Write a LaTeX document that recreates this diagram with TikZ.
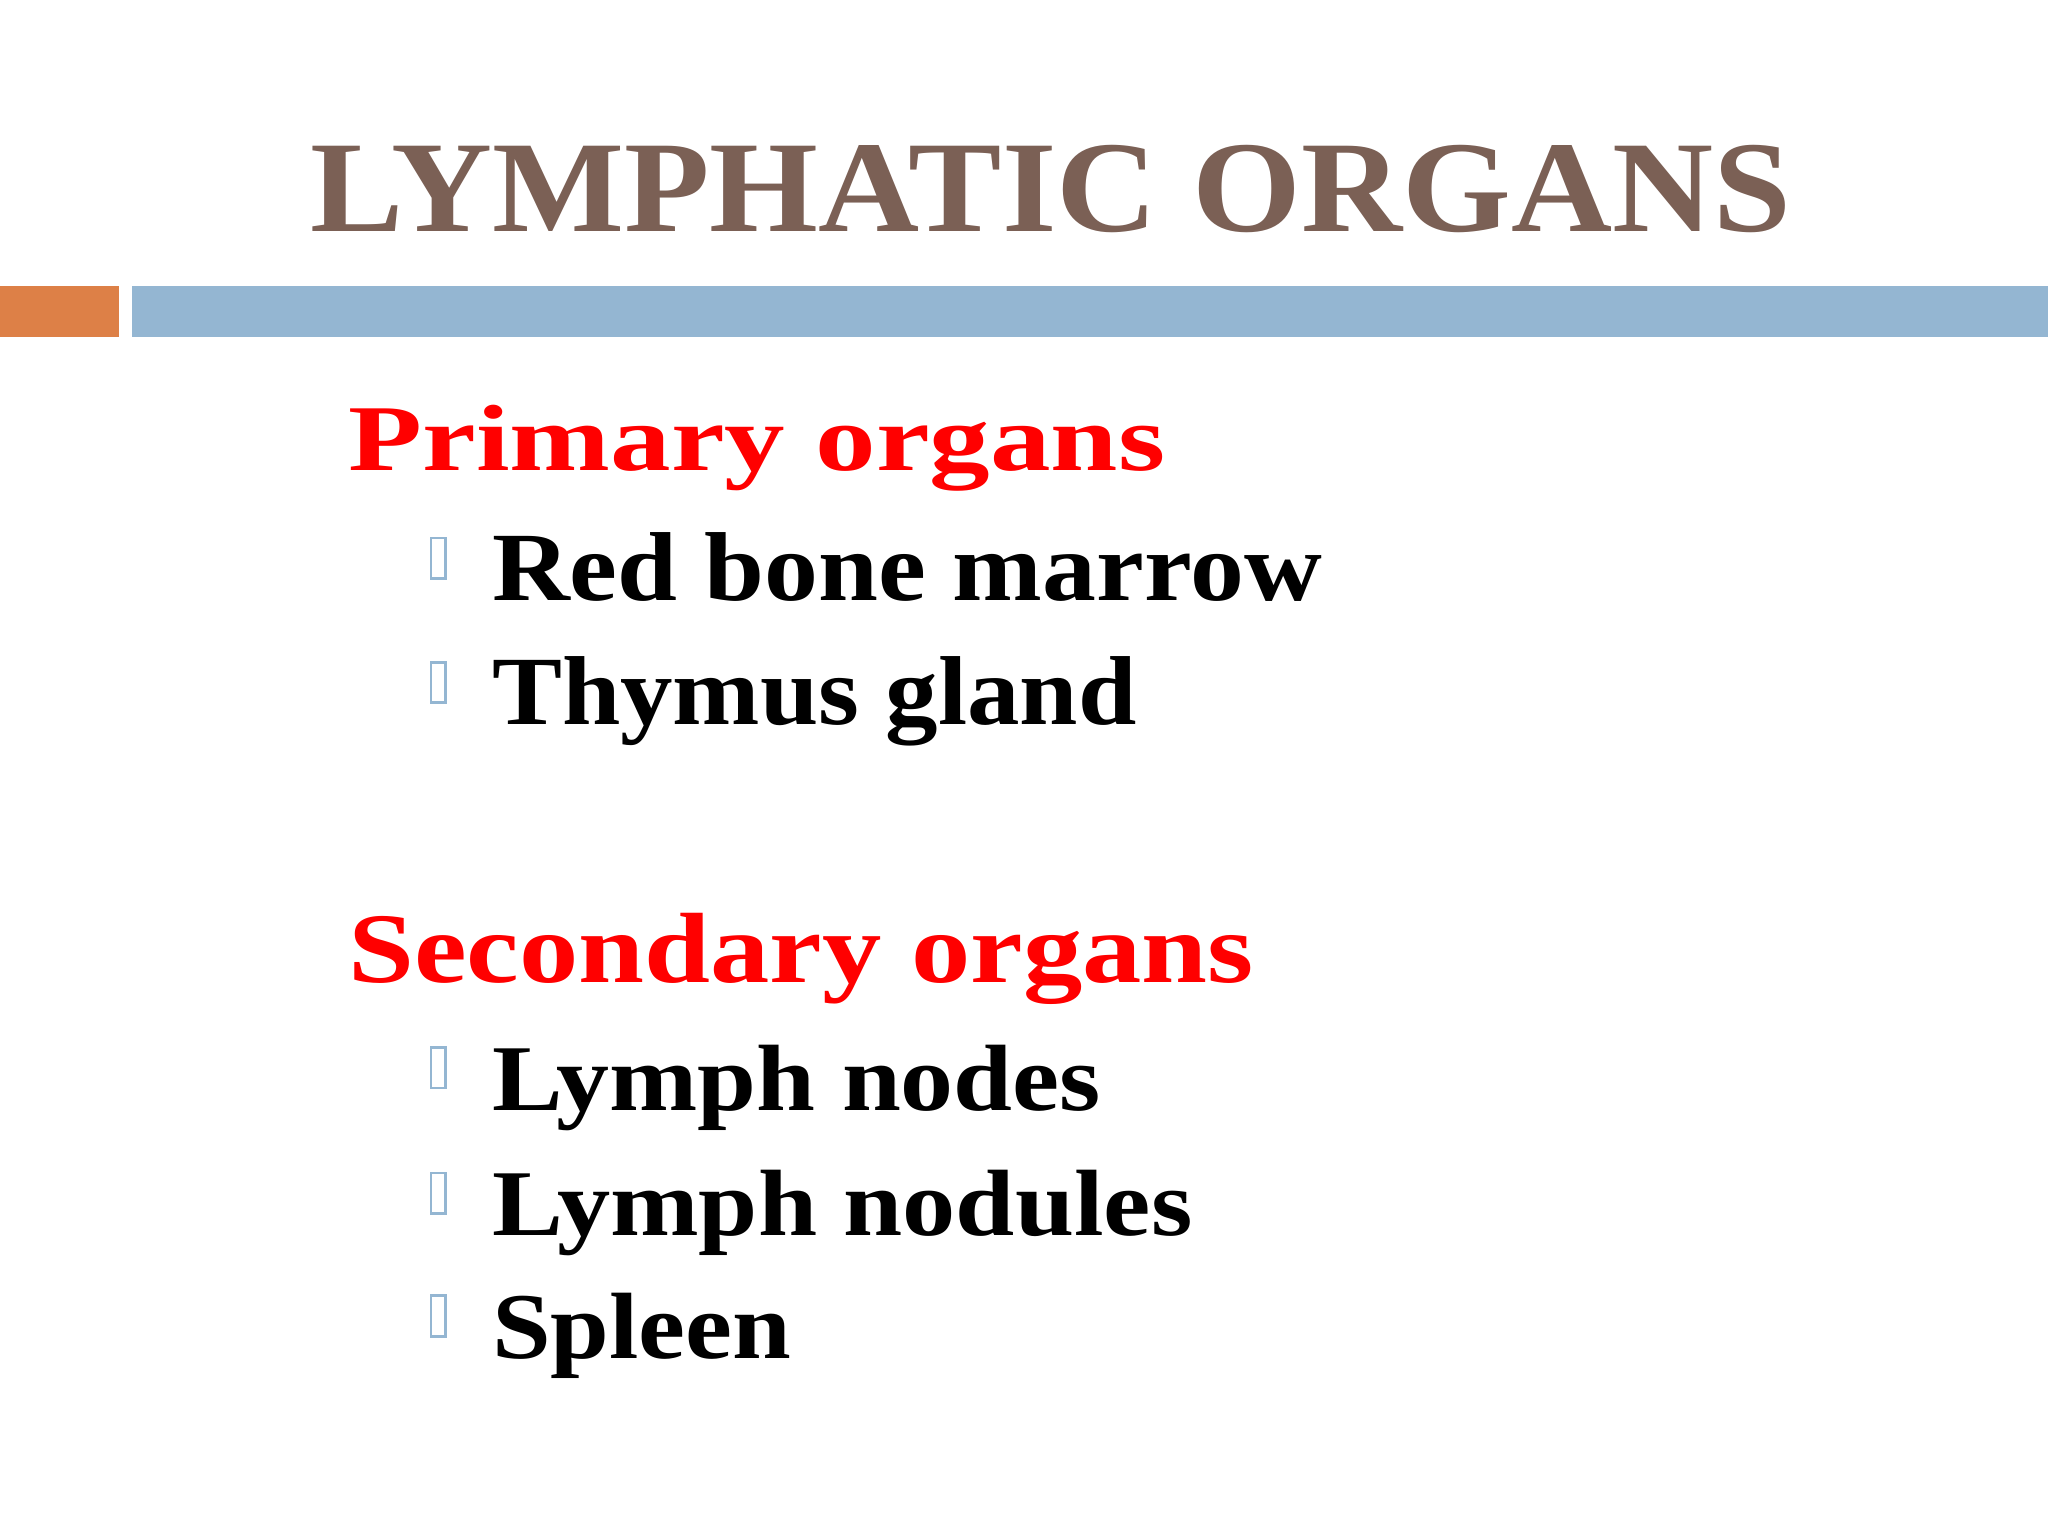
\documentclass[tikz,border=0pt]{standalone}
\usepackage{fontspec}
\setmainfont{Liberation Serif}
\definecolor{titlec}{HTML}{7B6055}
\definecolor{orangebar}{HTML}{DD8047}
\definecolor{bluebar}{HTML}{94B6D2}
\definecolor{redc}{HTML}{FF0000}
\begin{document}
\begin{tikzpicture}[x=0.01cm,y=-0.01cm,
  txt/.style={anchor=base west,inner sep=0pt},
  bul/.style={draw=bluebar,line width=0.6pt}]
\useasboundingbox (0,0) rectangle (1568,1176);
\fill[white] (0,0) rectangle (1568,1176);
\node[txt,text=titlec] (title) at (237,177) {\resizebox{11.33cm}{0.66cm}{\bfseries LYMPHATIC ORGANS}};
\fill[orangebar] (0,219) rectangle (91,258);
\fill[bluebar] (101,219) rectangle (1568,258);
\node[txt,text=redc] (prim) at (266,360) {\resizebox{6.25cm}{0.5cm}{\bfseries Primary organs}};
\node[txt] (rbm) at (376,460) {\resizebox{6.35cm}{0.52cm}{\bfseries Red bone marrow}};
\node[txt] (thy) at (376,555) {\resizebox{4.93cm}{0.52cm}{\bfseries Thymus gland}};
\node[txt,text=redc] (sec) at (266,752) {\resizebox{6.93cm}{0.53cm}{\bfseries Secondary organs}};
\node[txt] (ln) at (376,850) {\resizebox{4.66cm}{0.5cm}{\bfseries Lymph nodes}};
\node[txt] (lnd) at (376,946) {\resizebox{5.36cm}{0.5cm}{\bfseries Lymph nodules}};
\node[txt] (spl) at (376,1040) {\resizebox{2.29cm}{0.5cm}{\bfseries Spleen}};
\foreach \b in {460,555,850,946,1040}{
  \draw[bul] (330,\b-48) rectangle (341,\b-17);
}
\end{tikzpicture}
\end{document}
